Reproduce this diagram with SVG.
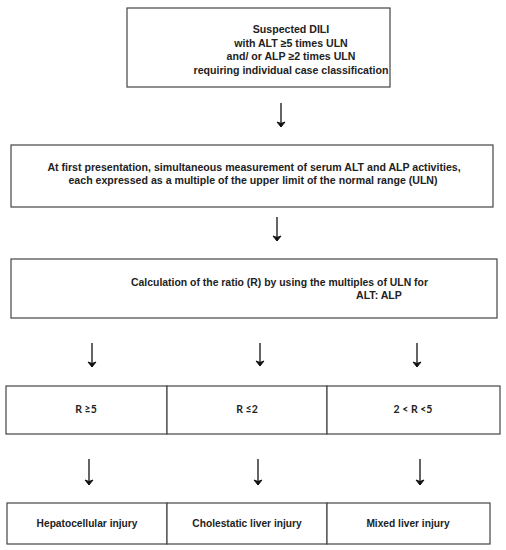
<svg xmlns="http://www.w3.org/2000/svg" width="506" height="550" viewBox="0 0 506 550">
<style>
.box{fill:#fff;stroke:#444;stroke-width:1.2}
.t{font-family:"Liberation Sans",Arial,sans-serif;font-weight:bold;font-size:10.6px;fill:#222}
.s{font-size:10.2px}
.c{text-anchor:middle}
.r{font-family:Lato,"Liberation Sans",sans-serif;font-weight:bold;font-size:10.5px;fill:#222;text-anchor:middle}
.ln{stroke:#111;stroke-width:1.3;fill:none}
</style>
<defs>
<marker id="ah" viewBox="0 0 10 10" refX="9" refY="5" markerWidth="10" markerHeight="10" markerUnits="userSpaceOnUse" orient="auto">
<path d="M4,1 L9,5 L4,9 L5.5,5 Z" fill="#111" stroke="#111" stroke-width="1" stroke-linejoin="round"/>
</marker>
</defs>
<rect width="506" height="550" fill="#fff"/>
<g id="n1">
<rect class="box" x="127" y="8" width="263" height="79"/>
<text class="t c" x="291" y="33">Suspected DILI</text>
<text class="t c" x="291" y="46.5">with ALT ≥5 times ULN</text>
<text class="t c" x="291" y="60">and/ or ALP ≥2 times ULN</text>
<text class="t c" x="291" y="73.5">requiring individual case classification</text>
</g>
<g id="n2">
<rect class="box" x="11" y="145" width="482" height="62"/>
<text class="t c" x="254" y="171">At first presentation, simultaneous measurement of serum ALT and ALP activities,</text>
<text class="t c" x="253" y="184">each expressed as a multiple of the upper limit of the normal range (ULN)</text>
</g>
<g id="n3">
<rect class="box" x="11" y="259" width="486" height="59"/>
<text class="t" x="131" y="286" textLength="297" lengthAdjust="spacingAndGlyphs">Calculation of the ratio (R) by using the multiples of ULN for</text>
<text class="t" x="356" y="299">ALT: ALP</text>
</g>
<g id="r1">
<rect class="box" x="6" y="386" width="161" height="48"/>
<text class="r" x="86" y="413">R ≥5</text>
</g>
<g id="r2">
<rect class="box" x="167" y="386" width="160" height="48"/>
<text class="r" x="247" y="413">R ≤2</text>
</g>
<g id="r3">
<rect class="box" x="327" y="386" width="173" height="48"/>
<text class="r" x="413" y="413">2 &lt; R &lt;5</text>
</g>
<g id="o1">
<rect class="box" x="7" y="503" width="160" height="41"/>
<text class="t s c" x="87" y="527">Hepatocellular injury</text>
</g>
<g id="o2">
<rect class="box" x="167" y="503" width="160" height="41"/>
<text class="t s c" x="247" y="527">Cholestatic liver injury</text>
</g>
<g id="o3">
<rect class="box" x="327" y="503" width="163" height="41"/>
<text class="t s c" x="408" y="527">Mixed liver injury</text>
</g>
<g id="connectors">
<line class="ln" x1="281" y1="103" x2="281" y2="127" marker-end="url(#ah)"/>
<line class="ln" x1="277" y1="217" x2="277" y2="241" marker-end="url(#ah)"/>
<line class="ln" x1="92" y1="343" x2="92" y2="367" marker-end="url(#ah)"/>
<line class="ln" x1="260" y1="343" x2="260" y2="366" marker-end="url(#ah)"/>
<line class="ln" x1="417" y1="343" x2="417" y2="367" marker-end="url(#ah)"/>
<line class="ln" x1="89" y1="459" x2="89" y2="485" marker-end="url(#ah)"/>
<line class="ln" x1="258" y1="459" x2="258" y2="485" marker-end="url(#ah)"/>
<line class="ln" x1="420" y1="459" x2="420" y2="485" marker-end="url(#ah)"/>
</g>
</svg>
